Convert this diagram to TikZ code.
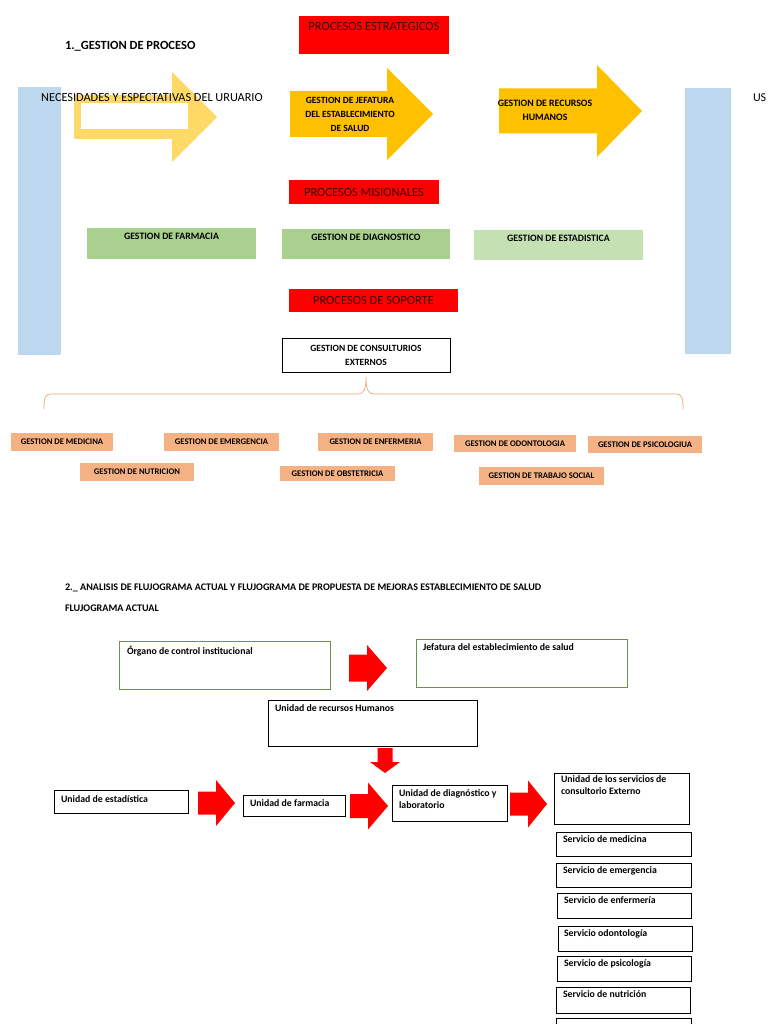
\documentclass[tikz,border=0pt]{standalone}
\usepackage{fontspec}
\setmainfont{Carlito}
\definecolor{barblue}{HTML}{BDD7EE}
\definecolor{paleyel}{HTML}{FFD966}
\definecolor{gold}{HTML}{FFC000}
\definecolor{procred}{HTML}{FF0000}
\definecolor{procredtext}{HTML}{3A0000}
\definecolor{grn}{HTML}{A9D08E}
\definecolor{lgrn}{HTML}{C5E0B3}
\definecolor{orng}{HTML}{F4B183}
\definecolor{brc}{HTML}{EBA57A}
\definecolor{olive}{HTML}{6A9448}
\newcommand\blkarrowH[7]{% colour, x0, xtip, xhead, ycentre, half shaft, half head
  \fill[#1] ({#2},{#5-#6}) -- ({#4},{#5-#6}) -- ({#4},{#5-#7}) -- ({#3},{#5}) -- ({#4},{#5+#7}) -- ({#4},{#5+#6}) -- ({#2},{#5+#6}) -- cycle;}
\newcommand\blkarrowV[7]{% colour, xcentre, y0, ytip, yhead, half shaft, half head
  \fill[#1] ({#2-#6},{#3}) -- ({#2-#6},{#5}) -- ({#2-#7},{#5}) -- ({#2},{#4}) -- ({#2+#7},{#5}) -- ({#2+#6},{#5}) -- ({#2+#6},{#3}) -- cycle;}
\begin{document}
\begin{tikzpicture}[x=1pt,y=-1pt,
  box/.style={inner sep=0, outer sep=0, anchor=north west},
  fillbox/.style={box, fill=#1},
  linebox/.style={box, draw=#1, line width=0.8, fill=white},
  txt/.style={inner sep=0, outer sep=0, align=center},
  redtxt/.style={txt, text=procredtext, font=\fontsize{12.5}{14}\selectfont},
  captxt/.style={txt, font=\bfseries\fontsize{9.8}{14}\selectfont},
  orgtxt/.style={txt, font=\bfseries\fontsize{8.6}{12}\selectfont},
  flowtxt/.style={inner sep=0, outer sep=0, anchor=north west, align=left, font=\bfseries\fontsize{9.8}{12}\selectfont},
  headtxt/.style={inner sep=0, outer sep=0, anchor=west, font=\bfseries\fontsize{10.1}{12}\selectfont}
]
\useasboundingbox (0,0) rectangle (768,1024);
\fill[white] (0,0) rectangle (768,1024);

% ---------- section 1 ----------
\node[headtxt, font=\bfseries\fontsize{12.5}{14}\selectfont] (t1) at (65,46) {1.\_GESTION DE PROCESO};

\node[fillbox=procred, minimum width=150, minimum height=38] (pe) at (299,16) {};
\node[redtxt, anchor=north] (pet) at ([shift={(0,6)}]pe.north) {PROCESOS ESTRATEGICOS};

\node[fillbox=barblue, minimum width=43, minimum height=268] (barL) at (18,87) {};
\node[fillbox=barblue, minimum width=46, minimum height=266] (barR) at (685,88) {};
\node[txt, anchor=west, font=\fontsize{12}{14}\selectfont] (us) at (753,98) {US};

% pale arrow with white text box
\blkarrowH{paleyel}{74}{217}{172}{117}{22}{45}
\node[fillbox=white, minimum width=107, minimum height=26] (nbox) at (81,103) {};
\node[txt, font=\fontsize{12.3}{14}\selectfont] (nec) at (152,98) {NECESIDADES Y ESPECTATIVAS DEL URUARIO};

\blkarrowH{gold}{290}{433}{387}{114}{23}{46}
\node[captxt, font=\bfseries\fontsize{9.5}{14}\selectfont] (jefa) at (350,114) {GESTION DE JEFATURA\\DEL ESTABLECIMIENTO\\DE SALUD};

\blkarrowH{gold}{499}{642}{597}{111}{22.5}{46}
\node[captxt] (rrhhg) at (545,110.5) {GESTION DE RECURSOS\\HUMANOS};

% misionales
\node[fillbox=procred, minimum width=150, minimum height=24] (pm) at (289,180) {};
\node[redtxt] (pmt) at (pm.center) {PROCESOS MISIONALES};

\node[fillbox=grn, minimum width=169, minimum height=31] (gf) at (87,228) {};
\node[captxt, anchor=north] (gft) at ([shift={(0,5)}]gf.north) {GESTION DE FARMACIA};
\node[fillbox=grn, minimum width=168, minimum height=30] (gd) at (282,229) {};
\node[captxt, anchor=north] (gdt) at ([shift={(0,5)}]gd.north) {GESTION DE DIAGNOSTICO};
\node[fillbox=lgrn, minimum width=169, minimum height=30] (ge) at (474,230) {};
\node[captxt, anchor=north] (get) at ([shift={(0,5)}]ge.north) {GESTION DE ESTADISTICA};

% soporte
\node[fillbox=procred, minimum width=169, minimum height=23] (ps) at (289,289) {};
\node[redtxt] (pst) at (ps.center) {PROCESOS DE SOPORTE};

\node[linebox=black, minimum width=168, minimum height=34] (cons) at (282,338) {};
\node[captxt, font=\bfseries\fontsize{9.5}{14}\selectfont] (const) at (cons.center) {GESTION DE CONSULTURIOS\\EXTERNOS};

% brace
\coordinate (btip) at ([shift={(0,5)}]cons.south);
\coordinate (bl) at (44,409);
\coordinate (br) at (683,409);
\draw[brc, line width=0.7] (bl) .. controls (44,397) and (45,394) .. (52,394) -- (358,394)
  .. controls (364,394) and (366,389) .. (btip)
  .. controls (366,389) and (368,394) .. (374,394) -- (675,394)
  .. controls (682,394) and (683,397) .. (br);

% orange boxes
\node[fillbox=orng, minimum width=102, minimum height=18] (o1) at (11,433) {};
\node[orgtxt] (o1t) at (o1.center) {GESTION DE MEDICINA};
\node[fillbox=orng, minimum width=115, minimum height=18] (o2) at (164,433) {};
\node[orgtxt] (o2t) at (o2.center) {GESTION DE EMERGENCIA};
\node[fillbox=orng, minimum width=115, minimum height=18] (o3) at (318,433) {};
\node[orgtxt] (o3t) at (o3.center) {GESTION DE ENFERMERIA};
\node[fillbox=orng, minimum width=122, minimum height=17] (o4) at (454,435) {};
\node[orgtxt] (o4t) at (o4.center) {GESTION DE ODONTOLOGIA};
\node[fillbox=orng, minimum width=114, minimum height=17] (o5) at (588,436) {};
\node[orgtxt] (o5t) at (o5.center) {GESTION DE PSICOLOGIUA};
\node[fillbox=orng, minimum width=114, minimum height=18] (o6) at (80,463) {};
\node[orgtxt] (o6t) at (o6.center) {GESTION DE NUTRICION};
\node[fillbox=orng, minimum width=115, minimum height=15] (o7) at (280,466) {};
\node[orgtxt] (o7t) at (o7.center) {GESTION DE OBSTETRICIA};
\node[fillbox=orng, minimum width=125, minimum height=18] (o8) at (479,467) {};
\node[orgtxt] (o8t) at (o8.center) {GESTION DE TRABAJO SOCIAL};

% ---------- section 2 ----------
\node[headtxt] (t2) at (65,588) {2.\_ ANALISIS DE FLUJOGRAMA ACTUAL Y FLUJOGRAMA DE PROPUESTA DE MEJORAS ESTABLECIMIENTO DE SALUD};
\node[headtxt] (t3) at (65,608) {FLUJOGRAMA ACTUAL};

\node[linebox=olive, minimum width=211, minimum height=48] (org) at (119,641) {};
\node[flowtxt] (orgt) at ([shift={(8,5)}]org.north west) {Órgano de control institucional};
\node[linebox=olive, minimum width=211, minimum height=48] (jef) at (416,639) {};
\node[flowtxt] (jeft) at ([shift={(7,5)}]jef.north west) {Jefatura del establecimiento de salud};
\node[linebox=black, minimum width=209, minimum height=46] (rh) at (268,700) {};
\node[flowtxt] (rht) at ([shift={(7,5)}]rh.north west) {Unidad de recursos Humanos};

\node[linebox=black, minimum width=134, minimum height=23] (est) at (54,790) {};
\node[flowtxt] (estt) at ([shift={(7,6)}]est.north west) {Unidad de estadística};
\node[linebox=black, minimum width=102, minimum height=21] (far) at (243,795) {};
\node[flowtxt] (fart) at ([shift={(7,5)}]far.north west) {Unidad de farmacia};
\node[linebox=black, minimum width=115, minimum height=36] (dia) at (392,785) {};
\node[flowtxt] (diat) at ([shift={(7,5)}]dia.north west) {Unidad de diagnóstico y\\laboratorio};
\node[linebox=black, minimum width=135, minimum height=51] (ser) at (554,773) {};
\node[flowtxt] (sert) at ([shift={(7,3)}]ser.north west) {Unidad de los servicios de\\consultorio Externo};

\node[linebox=black, minimum width=135, minimum height=24] (s1) at (556,832) {};
\node[flowtxt] (s1t) at ([shift={(7,4)}]s1.north west) {Servicio de medicina};
\node[linebox=black, minimum width=135, minimum height=24] (s2) at (556,863) {};
\node[flowtxt] (s2t) at ([shift={(7,4)}]s2.north west) {Servicio de emergencia};
\node[linebox=black, minimum width=134, minimum height=25] (s3) at (557,893) {};
\node[flowtxt] (s3t) at ([shift={(7,4)}]s3.north west) {Servicio de enfermería};
\node[linebox=black, minimum width=134, minimum height=25] (s4) at (558,926) {};
\node[flowtxt] (s4t) at ([shift={(6,4)}]s4.north west) {Servicio odontología};
\node[linebox=black, minimum width=134, minimum height=25] (s5) at (557,956) {};
\node[flowtxt] (s5t) at ([shift={(7,4)}]s5.north west) {Servicio de psicología};
\node[linebox=black, minimum width=134, minimum height=26] (s6) at (556,987) {};
\node[flowtxt] (s6t) at ([shift={(7,4)}]s6.north west) {Servicio de nutrición};
\node[linebox=black, minimum width=135, minimum height=12] (s7) at (556,1018) {};

% red block arrows
\blkarrowH{procred}{349}{387}{367}{668}{13.5}{23}
\blkarrowV{procred}{385}{748}{773}{762}{7.5}{15}
\blkarrowH{procred}{198}{235}{216}{803}{11.5}{23}
\blkarrowH{procred}{350}{388}{368}{806}{12}{23.5}
\blkarrowH{procred}{510}{547}{528}{804}{11.5}{23.5}
\end{tikzpicture}
\end{document}
